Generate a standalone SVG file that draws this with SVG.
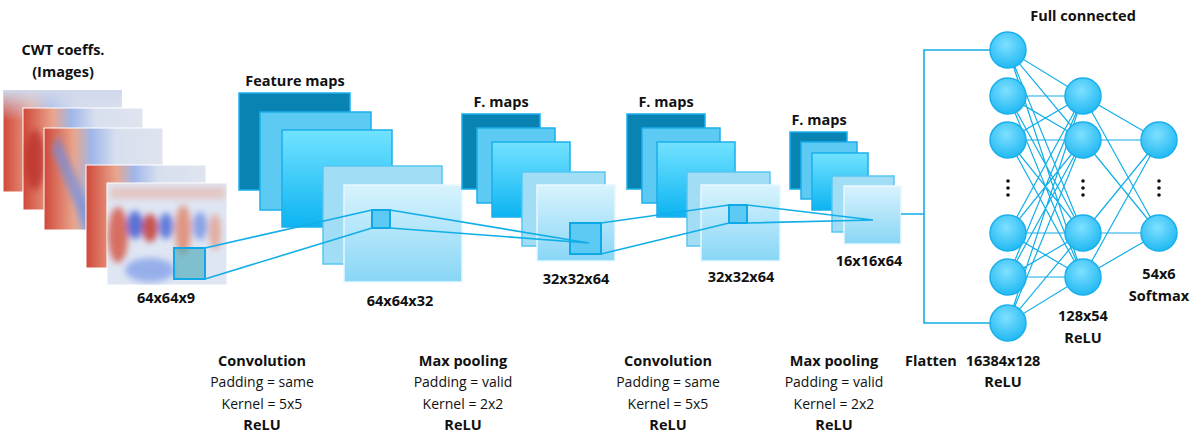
<svg xmlns="http://www.w3.org/2000/svg" width="1200" height="443" viewBox="0 0 1200 443">
<style>
text{font-family:"Open Sans","Liberation Sans",sans-serif;fill:#111;text-anchor:middle}
.b{font-weight:bold;font-size:14.5px}
.n{font-size:14px}
.c{stroke:#12aee8;stroke-width:1.6;fill:none}
.m1{fill:#0883b2;stroke:#1ab0ec;stroke-width:1.5}
.m2{fill:#5ccaf3;stroke:#1ab0ec;stroke-width:1.5}
.m3{fill:url(#g3);stroke:#1ab0ec;stroke-width:1.5}
.m4{fill:#a2ddf6;stroke:#55c6f2;stroke-width:1.5}
.m5{fill:url(#g5);stroke:#e8f8ff;stroke-width:1.5}
.nd{fill:url(#gn);stroke:#1ab0ec;stroke-width:1.5}
.k{fill:#5ccaf3;stroke:#0ea8e6;stroke-width:2}
</style>
<defs>
<linearGradient id="g3" x1="0" y1="0" x2="0" y2="1"><stop offset="0" stop-color="#72e2ff"/><stop offset="1" stop-color="#0db4f2"/></linearGradient>
<linearGradient id="g5" x1="0" y1="0" x2="0" y2="1"><stop offset="0" stop-color="#d8f3fd"/><stop offset="1" stop-color="#88d6f6"/></linearGradient>
<radialGradient id="gn" cx="0.45" cy="0.35" r="0.7"><stop offset="0" stop-color="#7fe0ff"/><stop offset="1" stop-color="#1ab6f2"/></radialGradient>
<linearGradient id="cw" x1="0" y1="0" x2="1" y2="0"><stop offset="0" stop-color="#d0483a"/><stop offset="0.25" stop-color="#e9a58c"/><stop offset="0.4" stop-color="#9fb6ea"/><stop offset="0.6" stop-color="#d7dfee"/><stop offset="1" stop-color="#dfe4ef"/></linearGradient>
<linearGradient id="cwt" x1="0" y1="0" x2="0" y2="1"><stop offset="0" stop-color="#d0d8ec" stop-opacity="1"/><stop offset="0.3" stop-color="#d0d8ec" stop-opacity="0"/></linearGradient>
<filter id="bl" x="-20%" y="-20%" width="140%" height="140%"><feGaussianBlur stdDeviation="3"/></filter>
<clipPath id="c5"><rect x="107" y="183" width="120" height="102"/></clipPath>
<clipPath id="c3"><rect x="44" y="128" width="119" height="102"/></clipPath>
<clipPath id="c2"><rect x="23" y="108" width="120" height="102"/></clipPath>
</defs>
<text class="b" x="63" y="55">CWT coeffs.</text>
<text class="b" x="63" y="77">(Images)</text>
<g id="cwt">
<rect x="3" y="90" width="119" height="102" fill="url(#cw)" stroke="#fff"/><rect x="3" y="90" width="119" height="102" fill="url(#cwt)"/>
<rect x="23" y="108" width="120" height="102" fill="url(#cw)" stroke="#fff"/><g clip-path="url(#c2)"><ellipse cx="35" cy="160" rx="10" ry="30" fill="#b82a25" opacity="0.7" filter="url(#bl)"/></g>
<rect x="44" y="128" width="119" height="102" fill="url(#cw)" stroke="#fff"/><g clip-path="url(#c3)"><path d="M58 135 L100 230 L85 230 L52 150Z" fill="#6f8fe0" opacity="0.7" filter="url(#bl)"/></g>
<rect x="86" y="165" width="120" height="103" fill="url(#cw)" stroke="#fff"/>
<rect x="107" y="183" width="120" height="102" fill="#dfe6f3" stroke="#fff"/>
<g opacity="0.85" clip-path="url(#c5)"><g filter="url(#bl)">
<ellipse cx="118" cy="235" rx="10" ry="28" fill="#d65a48"/><ellipse cx="135" cy="225" rx="8" ry="14" fill="#3f5fd0"/><ellipse cx="150" cy="228" rx="8" ry="14" fill="#c23a32"/><ellipse cx="166" cy="226" rx="7" ry="13" fill="#4a6ad6"/><ellipse cx="183" cy="230" rx="8" ry="25" fill="#e08870"/><ellipse cx="200" cy="226" rx="7" ry="14" fill="#7a95e2"/><ellipse cx="215" cy="232" rx="6" ry="18" fill="#e3a090"/>
<rect x="110" y="187" width="115" height="12" fill="#e6b0a4" opacity="0.7"/>
<ellipse cx="150" cy="270" rx="25" ry="12" fill="#8aa6ea"/>
</g></g>
<rect x="174" y="248" width="31" height="31" fill="#3fa6b8" fill-opacity="0.6" stroke="#0ea8e6" stroke-width="2"/>
</g>
<text class="b" x="295" y="86">Feature maps</text>
<g id="fm1">
<rect class="m1" x="239" y="93" width="111" height="97"/><rect class="m2" x="260" y="112" width="111" height="98"/><rect class="m3" x="282" y="130" width="110" height="97"/><rect class="m4" x="323" y="166" width="119" height="98"/><rect class="m5" x="344" y="185" width="118" height="97"/><rect class="k" x="372" y="210" width="18" height="18"/>
</g>
<text class="b" x="501" y="107">F. maps</text>
<g id="fm2">
<rect class="m1" x="462" y="114" width="78" height="75"/><rect class="m2" x="477" y="128" width="78" height="75"/><rect class="m3" x="492" y="142" width="78" height="75"/><rect class="m4" x="522" y="172" width="83" height="74"/><rect class="m5" x="537" y="185" width="78" height="76"/><rect class="k" x="570" y="223" width="31" height="31"/>
</g>
<text class="b" x="666" y="107">F. maps</text>
<g id="fm3">
<rect class="m1" x="627" y="114" width="78" height="75"/><rect class="m2" x="642" y="128" width="78" height="75"/><rect class="m3" x="657" y="142" width="78" height="75"/><rect class="m4" x="687" y="172" width="83" height="74"/><rect class="m5" x="701" y="185" width="79" height="76"/><rect class="k" x="729" y="205" width="18" height="18"/>
</g>
<text class="b" x="819" y="125">F. maps</text>
<g id="fm4">
<rect class="m1" x="790" y="132" width="57" height="57"/><rect class="m2" x="801" y="142" width="56" height="57"/><rect class="m3" x="812" y="153" width="56" height="57"/><rect class="m4" x="832" y="176" width="62" height="56"/><rect class="m5" x="844" y="186" width="57" height="58"/>
</g>
<g id="connectors" class="c">
<path d="M205 248 L372 210 M205 279 L372 228"/>
<path d="M390 210 L589 243 M390 228 L589 243"/>
<path d="M601 223 L729 205 M601 254 L729 223"/>
<path d="M747 205 L873 220 M747 223 L873 220"/>
<path d="M901 214 L924 214 M1008 50 L924 50 L924 323 L1008 323"/>
<path stroke-width="1.2" d="M1008 50L1083 96M1008 50L1083 140M1008 50L1083 233M1008 50L1083 277M1008 96L1083 96M1008 96L1083 140M1008 96L1083 233M1008 96L1083 277M1008 140L1083 96M1008 140L1083 140M1008 140L1083 233M1008 140L1083 277M1008 233L1083 96M1008 233L1083 140M1008 233L1083 233M1008 233L1083 277M1008 277L1083 96M1008 277L1083 140M1008 277L1083 233M1008 277L1083 277M1008 323L1083 96M1008 323L1083 140M1008 323L1083 233M1008 323L1083 277M1083 96L1159 140M1083 96L1159 233M1083 140L1159 140M1083 140L1159 233M1083 233L1159 140M1083 233L1159 233M1083 277L1159 140M1083 277L1159 233"/>
</g>
<g id="layer1"><circle class="nd" cx="1008" cy="50" r="18"/><circle class="nd" cx="1008" cy="96" r="18"/><circle class="nd" cx="1008" cy="140" r="18"/><circle class="nd" cx="1008" cy="233" r="18"/><circle class="nd" cx="1008" cy="277" r="18"/><circle class="nd" cx="1008" cy="323" r="18"/></g>
<g id="layer2"><circle class="nd" cx="1083" cy="96" r="18"/><circle class="nd" cx="1083" cy="140" r="18"/><circle class="nd" cx="1083" cy="233" r="18"/><circle class="nd" cx="1083" cy="277" r="18"/></g>
<g id="layer3"><circle class="nd" cx="1159" cy="140" r="18"/><circle class="nd" cx="1159" cy="233" r="18"/></g>
<g id="dots" fill="#111"><circle cx="1008" cy="181" r="1.8"/><circle cx="1008" cy="188" r="1.8"/><circle cx="1008" cy="195" r="1.8"/><circle cx="1083" cy="181" r="1.8"/><circle cx="1083" cy="188" r="1.8"/><circle cx="1083" cy="195" r="1.8"/><circle cx="1159" cy="181" r="1.8"/><circle cx="1159" cy="188" r="1.8"/><circle cx="1159" cy="195" r="1.8"/></g>
<text class="b" x="1083" y="21">Full connected</text>
<text class="b" x="166" y="303">64x64x9</text>
<text class="b" x="400" y="306">64x64x32</text>
<text class="b" x="576" y="284">32x32x64</text>
<text class="b" x="741" y="282">32x32x64</text>
<text class="b" x="869" y="266">16x16x64</text>
<text class="b" x="1159" y="279">54x6</text><text class="b" x="1159" y="301">Softmax</text>
<text class="b" x="1083" y="321">128x54</text><text class="b" x="1083" y="343">ReLU</text>
<text class="b" x="931" y="366">Flatten</text>
<text class="b" x="1003" y="366">16384x128</text><text class="b" x="1003" y="387">ReLU</text>
<g id="labels">
<text class="b" x="262" y="366">Convolution</text><text class="n" x="262" y="387">Padding = same</text><text class="n" x="262" y="409">Kernel = 5x5</text><text class="b" x="262" y="430">ReLU</text>
<text class="b" x="463" y="366">Max pooling</text><text class="n" x="463" y="387">Padding = valid</text><text class="n" x="463" y="409">Kernel = 2x2</text><text class="b" x="463" y="430">ReLU</text>
<text class="b" x="668" y="366">Convolution</text><text class="n" x="668" y="387">Padding = same</text><text class="n" x="668" y="409">Kernel = 5x5</text><text class="b" x="668" y="430">ReLU</text>
<text class="b" x="834" y="366">Max pooling</text><text class="n" x="834" y="387">Padding = valid</text><text class="n" x="834" y="409">Kernel = 2x2</text><text class="b" x="834" y="430">ReLU</text>
</g>
</svg>
